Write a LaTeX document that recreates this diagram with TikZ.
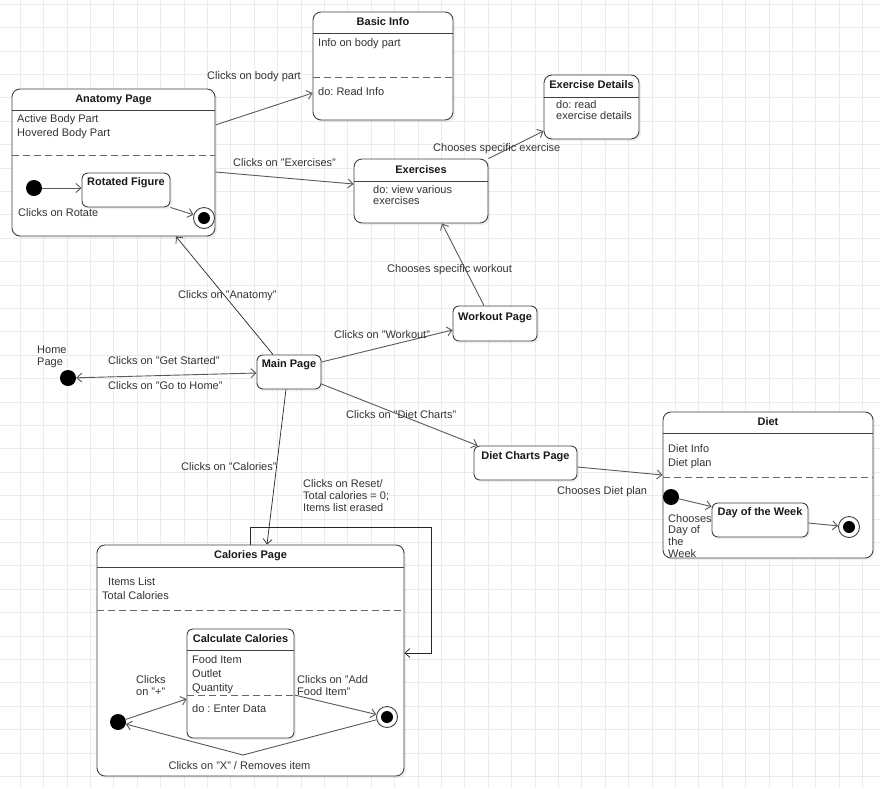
\documentclass[tikz,border=0pt]{standalone}
\usepackage{fontspec}
\setmainfont{Liberation Sans}
\usetikzlibrary{arrows.meta,shadows}

\begin{document}
\frenchspacing
\begin{tikzpicture}
    [   x=1pt, y=-1pt,
        >={Straight Barb[length=5pt,width=9pt]},
        every node/.style={font=\fontsize{11}{14}\selectfont, text=black!80},
        gridline/.style={draw=black!8, line width=0.7pt},
        sz/.style 2 args={minimum width=#1pt, minimum height=#2pt},
        state/.style={draw=black!75, line width=0.9pt, rounded corners=#1, fill=white, inner sep=0pt,
                      drop shadow={shadow xshift=2pt, shadow yshift=-2pt, opacity=0.12}},
        state/.default=8pt,
        title/.style={font=\fontsize{11}{14}\selectfont\bfseries, text=black!90, inner sep=0pt},
        attr/.style={anchor=north west, align=left, inner sep=0pt},
        tight/.style={anchor=north west, align=left, inner sep=0pt, font=\fontsize{11}{11.8}\selectfont},
        lbl/.style={anchor=west, inner sep=0pt},
        divline/.style={draw=black!75, line width=0.9pt},
        dashline/.style={draw=black!60, line width=0.9pt, dash pattern=on 7pt off 4pt},
        edge/.style={draw=black!65, line width=0.9pt},
        thinedge/.style={draw=black!85, line width=0.7pt},
        init/.style={circle, fill=black, minimum size=16pt, inner sep=0pt},
        final/.style={circle, draw=black!75, line width=0.9pt, fill=white, minimum size=21pt, inner sep=0pt,
                      path picture={\fill[black] (path picture bounding box.center) circle (6pt);}},
    ]
        \useasboundingbox (0,0) rectangle (880,788);
        % background grid
        \fill[white] (0,0) rectangle (880,788);
        \foreach \gx in {0,...,36}
            \draw[gridline] ({20.1+23.4*\gx},0) -- ({20.1+23.4*\gx},788);
        \foreach \gy in {0,...,33}
            \draw[gridline] (0,{4.2+23.4*\gy}) -- (880,{4.2+23.4*\gy});

        % anatomy page
        \node[state, sz={203}{147}] (anatomy) at (113.5,162.5) {};
        \node[title] (anatomyT) at (113.5,100) {Anatomy Page};
        \draw[divline] (anatomy.west |- 0,110.7) -- (anatomy.east |- 0,110.7);
        \draw[dashline] (anatomy.west |- 0,155) -- (anatomy.east |- 0,155);
        \node[attr] (anatomyA) at (17,114.5) {Active Body Part\\Hovered Body Part};
        \node[init] (rotinit) at (34,188) {};
        \node[state=6pt, sz={88}{34}] (rotfig) at (126,190) {};
        \node[title] (rotfigT) at (126,183) {Rotated Figure};
        \node[final] (rotfinal) at (204,218) {};
        \node[lbl] (rotL) at (18,213) {Clicks on Rotate};

        % basic info and exercises
        \node[state, sz={140}{108}] (basic) at (383,66) {};
        \node[title] (basicT) at (383,22) {Basic Info};
        \draw[divline] (basic.west |- 0,33) -- (basic.east |- 0,33);
        \draw[dashline] (basic.west |- 0,77) -- (basic.east |- 0,77);
        \node[attr] (basicA) at (318,38) {Info on body part};
        \node[attr] (basicD) at (318,87) {do: Read Info};

        \node[state, sz={95}{64}] (exdet) at (591.5,107) {};
        \node[title] (exdetT) at (591.5,85) {Exercise Details};
        \draw[divline] (exdet.west |- 0,97) -- (exdet.east |- 0,97);
        \node[tight] (exdetD) at (556,100) {do: read\\exercise details};

        \node[state, sz={134}{64}] (exercises) at (421,191) {};
        \node[title] (exercisesT) at (421,170) {Exercises};
        \draw[divline] (exercises.west |- 0,181) -- (exercises.east |- 0,181);
        \node[tight] (exercisesD) at (373,185) {do: view various\\exercises};

        % main, workout, diet charts
        \node[state=6pt, sz={84}{35}] (workout) at (495,323.5) {};
        \node[title] (workoutT) at (495,318) {Workout Page};
        \node[state=6pt, sz={64}{34}] (mainpg) at (289,372) {};
        \node[title] (mainpgT) at (289,365) {Main Page};
        \node[init] (home) at (68,378) {};
        \node[tight] (homeL) at (37,346) {Home\\Page};
        \node[state=6pt, sz={103}{34}] (dietcharts) at (525.5,463) {};
        \node[title] (dietchartsT) at (525.5,457) {Diet Charts Page};

        % diet
        \node[state, sz={210}{146}] (diet) at (768,485) {};
        \node[title] (dietT) at (768,422) {Diet};
        \draw[divline] (diet.west |- 0,433) -- (diet.east |- 0,433);
        \draw[dashline] (diet.west |- 0,477) -- (diet.east |- 0,477);
        \node[attr] (dietA) at (668,444) {Diet Info\\Diet plan};
        \node[init] (dietinit) at (671,497) {};
        \node[state=6pt, sz={96}{34}] (dayweek) at (760,520) {};
        \node[title] (dayweekT) at (760,513) {Day of the Week};
        \node[final] (dietfinal) at (849,527) {};
        \node[tight] (dayweekL) at (668,514) {Chooses\\Day of\\the\\Week};

        % calories page
        \node[state, sz={307}{231}] (calories) at (250.5,660.5) {};
        \node[title] (caloriesT) at (250.5,556) {Calories Page};
        \draw[divline] (calories.west |- 0,567) -- (calories.east |- 0,567);
        \draw[dashline] (calories.west |- 0,610) -- (calories.east |- 0,610);
        \node[attr] (caloriesA) at (102,577) {\hspace*{6pt}Items List\\Total Calories};
        \node[state=6pt, sz={107}{109}] (calc) at (240.5,683.5) {};
        \node[title] (calcT) at (240.5,639) {Calculate Calories};
        \draw[divline] (calc.west |- 0,650) -- (calc.east |- 0,650);
        \draw[dashline] (calc.west |- 0,695) -- (calc.east |- 0,695);
        \node[attr] (calcA) at (192,655) {Food Item\\Outlet\\Quantity};
        \node[attr] (calcD) at (192,704) {do : Enter Data};
        \node[init] (calinit) at (118,722) {};
        \node[final] (calfinal) at (387,717) {};
        \coordinate (xbend) at (243,755);
        \coordinate (resetA) at (431,527);

        % draw the lines
        \draw[edge,->] ([yshift=37.5pt]anatomy.east) -- ([yshift=-27pt]basic.west);
        \draw[edge,->] ([yshift=-9.5pt]anatomy.east) -- ([yshift=7pt]exercises.west);
        \draw[edge,->] (exercises.north east) -- ([yshift=-24pt]exdet.west);
        \draw[edge,->] ([xshift=-11pt]workout.north) -- ([xshift=21pt]exercises.south);
        \draw[thinedge,->] ([xshift=-16pt]mainpg.north) -- ([xshift=62.5pt]anatomy.south);
        \draw[edge,->] ([yshift=10pt]mainpg.east) -- ([yshift=-6.5pt]workout.west);
        \draw[edge,->] ([yshift=-12pt]mainpg.east) -- ([xshift=4pt]dietcharts.north west);
        \draw[edge,<->] (home) -- ([yshift=-1pt]mainpg.west);
        \draw[thinedge,->] ([xshift=-3pt]mainpg.south) -- ([xshift=16.5pt]calories.north);
        \draw[edge,->] ([yshift=-4pt]dietcharts.east) -- ([yshift=10pt]diet.west);
        \draw[edge,->] (dietinit) -- ([yshift=-4pt]dayweek.north west);
        \draw[edge,->] ([yshift=-3pt]dayweek.east) -- (dietfinal);
        \draw[edge,->] (rotinit) -- (rotinit -| rotfig.west);
        \draw[edge,->] (rotfig.south east) -- (rotfinal);
        \draw[edge,->] (calinit) -- ([yshift=-15.5pt]calc.west);
        \draw[edge,->] ([yshift=-11.5pt]calc.east) -- (calfinal);
        \draw[edge,->] (calfinal) -- (xbend) -- (calinit);
        \draw[thinedge,->] (calories.north) |- (resetA) |- ([yshift=7.5pt]calories.east);

        % transition labels
        \node[lbl] (bodyL) at (207,77) {Clicks on body part};
        \node[lbl] (exL) at (233,163) {Clicks on "Exercises"};
        \node[lbl] (exdetL) at (433,149) {Chooses specific exercise};
        \node[lbl] (workoutL) at (387,270) {Chooses specific workout};
        \node[lbl] (anatomyL) at (178,296) {Clicks on "Anatomy"};
        \node[lbl] (toworkL) at (334,335) {Clicks on "Workout"};
        \node[lbl] (startL) at (108,361) {Clicks on "Get Started"};
        \node[lbl] (gohomeL) at (108,386) {Clicks on "Go to Home"};
        \node[lbl] (dietchL) at (346,415) {Clicks on "Diet Charts"};
        \node[lbl] (calL) at (181,467) {Clicks on "Calories"};
        \node[tight] (resetL) at (303,479.5) {Clicks on Reset/\\Total calories = 0;\\Items list erased};
        \node[lbl] (planL) at (557,492) {Chooses Diet plan};
        \node[tight] (plusL) at (136,675.5) {Clicks\\on "+"};
        \node[tight] (addL) at (297,675.5) {Clicks on "Add\\Food Item"};
        \node[lbl, anchor=center] (removeL) at (239.5,766) {Clicks on "X" / Removes item};
    \end{tikzpicture}
\end{document}
